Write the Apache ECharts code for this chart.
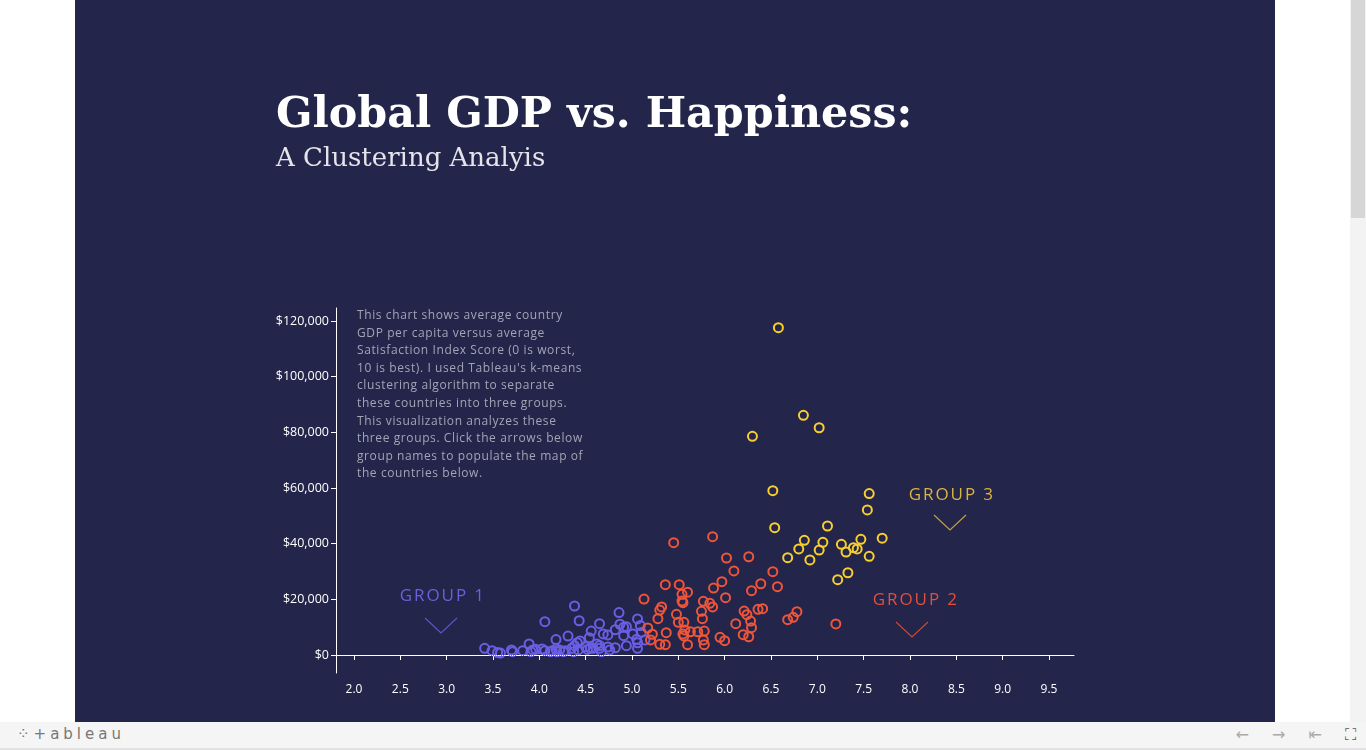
<!DOCTYPE html>
<html>
<head>
<meta charset="utf-8">
<title>Global GDP vs. Happiness</title>
<script src="https://cdn.jsdelivr.net/npm/echarts@6/dist/echarts.min.js"></script>
<style>
  html, body { margin: 0; padding: 0; background: #ffffff; overflow: hidden; }
  #panel { position: absolute; left: 75px; top: 0; width: 1200px; height: 722px; background: #23254a; }
  #chart { position: absolute; left: 0; top: 0; width: 1366px; height: 750px; }
  #scroll { position: absolute; left: 1350px; top: 0; width: 16px; height: 722px; background: #f3f3f3; }
  #thumb { position: absolute; left: 1351px; top: 0; width: 14px; height: 218px; background: #d6d6d6; }
  #bar { position: absolute; left: 0; top: 722px; width: 1366px; height: 26px; background: #f5f5f5; border-bottom: 2px solid #e2e2e2;
         font-family: "DejaVu Sans", sans-serif; color: #777; }
  #logo { position: absolute; left: 17px; top: 3px; font-size: 15px; letter-spacing: 4px; }
  #nav { position: absolute; right: 10px; top: 3px; font-size: 16px; color: #aaa; word-spacing: 18px; }
  #note { position: absolute; left: 357px; top: 306px; font-family: "Open Sans", sans-serif; font-size: 12px;
          line-height: 17.6px; letter-spacing: 0.6px; color: #a3a5b6; white-space: pre; pointer-events: none; }
  .grp { position: absolute; width: 200px; text-align: center; font-family: "Open Sans", sans-serif; font-size: 17px;
         line-height: 20px; letter-spacing: 1.9px; padding-left: 1.9px; pointer-events: none; }
</style>
</head>
<body>
<div id="panel"></div>
<div id="scroll"></div>
<div id="thumb"></div>
<div id="chart"></div>
<div id="note"></div>
<div class="grp" style="left:341px; top:585px; color:#6a60dc">GROUP 1</div>
<div class="grp" style="left:814px; top:589px; color:#e0503c">GROUP 2</div>
<div class="grp" style="left:850px; top:484px; color:#d8b443">GROUP 3</div>
<div id="bar">
  <span id="logo">&#x2058;+ableau</span>
  <span id="nav">&larr; &rarr; &#x21E4; <span style="color:#555">&#x26F6;</span></span>
</div>
<script>
"use strict";

// GROUP 1 - satisfaction score / GDP per capita
const group1Score = [3.41, 3.49, 3.55, 3.58, 3.70, 3.71, 3.82, 3.91, 3.93, 4.03, 4.06, 4.12, 4.18, 4.19, 4.22, 4.26,
  4.06, 4.18, 4.31, 3.89, 4.38, 4.43, 4.65, 4.86, 5.06, 5.09, 4.56, 4.54, 4.44, 4.41, 4.38, 4.69,
  4.74, 4.82, 4.87, 4.91, 4.94, 4.91, 5.01, 5.10, 5.05, 5.06, 5.14, 4.62, 4.65, 4.50, 4.52, 4.35,
  4.42, 4.74, 4.82, 4.94, 5.06, 4.65, 4.37, 4.55, 4.67, 4.58, 4.76, 4.28, 3.96, 4.14];
const group1Gdp = [2400, 1550, 900, 700, 1800, 1200, 1550, 1200, 1800, 2150, 1550, 1200, 2150, 1200, 1800, 1200,
  11950, 5550, 6800, 3950, 17600, 12300, 11250, 15250, 12950, 10600, 8600, 6200, 5050, 4400, 3350, 7550,
  7200, 9100, 11050, 9950, 10150, 6950, 7550, 8100, 5650, 4400, 5400, 3950, 3400, 3000, 2000, 2400,
  1800, 2900, 2600, 3350, 2400, 2400, 1200, 2400, 1200, 2400, 1800, 1550, 2050, 1550];

// GROUP 2
const group2Score = [5.87, 5.45, 6.02, 6.26, 6.10, 6.52, 5.36, 5.51, 5.97, 5.88, 6.39, 6.29, 6.57, 5.54, 5.60,
  5.13, 6.01, 5.54, 5.55, 5.77, 5.84, 5.87, 5.32, 5.30, 5.75, 6.21, 6.24, 6.36, 6.41, 6.78, 6.74,
  6.68, 5.28, 5.48, 5.76, 5.50, 5.56, 6.28, 6.29, 6.12, 5.17, 5.37, 5.22, 5.57, 5.63, 5.56, 5.71,
  5.78, 6.20, 6.26, 5.95, 6.00, 5.77, 5.78, 5.60, 5.30, 5.36, 5.20, 5.55, 7.20];
const group2Gdp = [42500, 40350, 34850, 35300, 30200, 29950, 25250, 25250, 26350, 24050, 25600, 23100, 24550, 21800, 22550,
  20100, 20600, 19400, 18800, 19300, 18550, 17250, 17250, 16150, 15700, 15800, 14500, 16400, 16650, 15550, 13550,
  12700, 13050, 14600, 13050, 11750, 11750, 12200, 9800, 11250, 9700, 8000, 7450, 9000, 8350, 6850, 8350,
  8600, 7300, 6550, 6350, 5150, 5400, 3700, 3700, 3850, 3700, 5400, 7550, 11150];

// GROUP 3
const group3Score = [6.58, 6.85, 7.02, 6.30, 6.52, 7.56, 7.54, 6.54, 7.11, 6.86, 7.06, 6.80, 7.02, 7.26, 7.31,
  7.39, 7.43, 7.47, 7.70, 6.68, 6.92, 7.56, 7.33, 7.22];
const group3Gdp = [117600, 86100, 81650, 78550, 59050, 58000, 52100, 45750, 46350, 41200, 40500, 38100, 37700, 39750, 37000,
  38550, 38100, 41550, 41950, 34950, 34150, 35450, 29550, 27050];

const xTicks = [2.0, 2.5, 3.0, 3.5, 4.0, 4.5, 5.0, 5.5, 6.0, 6.5, 7.0, 7.5, 8.0, 8.5, 9.0, 9.5];
const yTicks = [0, 20000, 40000, 60000, 80000, 100000, 120000];

const noteLines = [
  "This chart shows average country",
  "GDP per capita versus average",
  "Satisfaction Index Score (0 is worst,",
  "10 is best). I used Tableau's k-means",
  "clustering algorithm to separate",
  "these countries into three groups.",
  "This visualization analyzes these",
  "three groups. Click the arrows below",
  "group names to populate the map of",
  "the countries below."
];
document.getElementById('note').textContent = noteLines.join("\n");

const zip = (xs, ys) => xs.map((x, i) => [x, ys[i]]);

let myChart = echarts.init(document.getElementById('chart'));

function ring(color) {
  return {
    type: 'scatter',
    symbol: 'circle',
    symbolSize: 9,
    itemStyle: { color: 'rgba(0,0,0,0)', borderColor: color, borderWidth: 2, opacity: 1 },
  };
}

function chevron(cx, top, color) {
  return {
    type: 'polyline',
    shape: { points: [[cx - 16, top], [cx, top + 15], [cx + 16, top]] },
    style: { stroke: color, lineWidth: 1.2, fill: null },
  };
}

let option = {
  animation: false,
  backgroundColor: 'transparent',
  grid: { left: 336, top: 308, width: 738, height: 365 },
  xAxis: {
    type: 'value',
    min: 1.806,
    max: 9.77,
    axisLine: { lineStyle: { color: '#ffffff', width: 1 } },
    axisTick: { show: true, length: 5, lineStyle: { color: '#ffffff' }, customValues: xTicks },
    axisLabel: {
      color: '#ffffff', fontFamily: 'Open Sans', fontSize: 12, margin: 11,
      customValues: xTicks,
      formatter: (v) => v.toFixed(1),
    },
    splitLine: { show: false },
  },
  yAxis: {
    type: 'value',
    min: -6470,
    max: 124670,
    axisLine: { show: true, lineStyle: { color: '#ffffff', width: 1 } },
    axisTick: { show: true, length: 5, lineStyle: { color: '#ffffff' }, customValues: yTicks },
    axisLabel: {
      color: '#ffffff', fontFamily: 'Open Sans', fontSize: 12.5, margin: 7,
      customValues: yTicks,
      formatter: (v) => '$' + v.toLocaleString('en-US'),
    },
    splitLine: { show: false },
  },
  series: [
    Object.assign(ring('#6a5fe4'), {
      name: 'Group 1',
      data: zip(group1Score, group1Gdp),
      markLine: {
        silent: true,
        symbol: 'none',
        label: { show: false },
        lineStyle: { color: '#ffffff', type: 'dotted', width: 1 },
        data: [{ yAxis: 0 }],
      },
    }),
    Object.assign(ring('#f0553a'), { name: 'Group 2', data: zip(group2Score, group2Gdp) }),
    Object.assign(ring('#f8cf2c'), { name: 'Group 3', data: zip(group3Score, group3Gdp) }),
  ],
  graphic: [
    {
      type: 'text', x: 276, y: 116,
      style: { text: 'Global GDP vs. Happiness:', fill: '#ffffff', font: 'bold 42.8px "DejaVu Serif"', verticalAlign: 'middle' },
    },
    {
      type: 'text', x: 276, y: 159,
      style: { text: 'A Clustering Analyis', fill: '#e4e4ea', font: '26px "DejaVu Serif"', verticalAlign: 'middle' },
    },
    chevron(441, 618, '#5e54c8'),
    chevron(912, 622, '#c84a36'),
    chevron(950, 515, '#bfa046'),
  ],
};

myChart.setOption(option);
</script>
</body>
</html>
